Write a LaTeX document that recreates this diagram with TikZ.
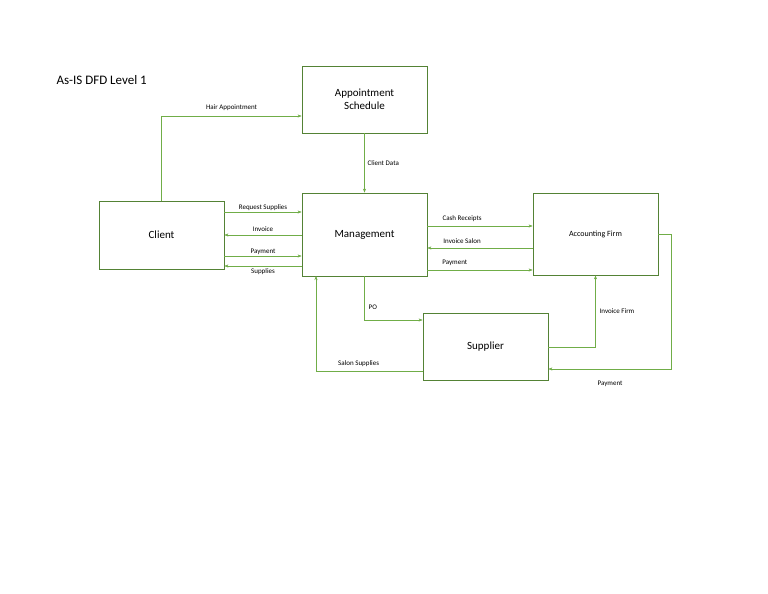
\documentclass[tikz,border=0pt]{standalone}
\usepackage{fontspec}
\setmainfont{Carlito}
\usetikzlibrary{arrows.meta}
\definecolor{boxgreen}{RGB}{84,130,53}
\definecolor{linegreen}{RGB}{112,173,71}
\tikzset{
  proc/.style={draw=boxgreen, thick, minimum width=125pt, align=center, font=\fontsize{11}{13}\selectfont},
  flow/.style={draw=linegreen, -{Stealth[length=4pt,width=3pt]}},
  lbl/.style={font=\fontsize{7}{8}\selectfont, inner sep=1pt}
}
\begin{document}
\begin{tikzpicture}[x=1pt, y=-1pt]
		\useasboundingbox (0,0) rectangle (768,594);
		
		% Title
		\node[anchor=west, font=\fontsize{13}{15}\selectfont] (title) at (53,80) {As-IS DFD Level 1};
		
		% Processes and entities
		\node[proc, minimum height=67pt] (sched) at (364.5,99.5) {Appointment\\Schedule};
		\node[proc, minimum height=68pt] (client) at (161.5,235) {Client};
		\node[proc, minimum height=83pt] (mgmt) at (364.5,234.5) {Management};
		\node[proc, minimum height=82pt, font=\fontsize{8}{10}\selectfont] (acct) at (595.5,234) {Accounting Firm};
		\node[proc, minimum height=67pt] (supp) at (485.5,346.5) {Supplier};
		
		% Client and schedule
		\draw[flow] (client.north) |- (sched.west |- 0,116) node[lbl, pos=0.75, above=4pt] {Hair Appointment};
		\draw[flow] (sched.south) -- (mgmt.north) node[lbl, midway, right=2pt] {Client Data};
		
		% Client and management
		\draw[flow] (client.east |- 0,212) -- (mgmt.west |- 0,212) node[lbl, midway, above] {Request Supplies};
		\draw[flow] (mgmt.west |- 0,235) -- (client.east |- 0,235) node[lbl, midway, above=2pt] {Invoice};
		\draw[flow] (client.east |- 0,256) -- (mgmt.west |- 0,256) node[lbl, midway, above] {Payment};
		\draw[flow] (mgmt.west |- 0,266) -- (client.east |- 0,266) node[lbl, midway, below=1pt] {Supplies};
		
		% Management and accounting
		\draw[flow] (mgmt.east |- 0,226) -- (acct.west |- 0,226) node[lbl, pos=0.33, above=3pt] {Cash Receipts};
		\draw[flow] (acct.west |- 0,248) -- (mgmt.east |- 0,248) node[lbl, pos=0.67, above=3pt] {Invoice Salon};
		\draw[flow] (mgmt.east |- 0,270) -- (acct.west |- 0,270) node[lbl, pos=0.26, above=3pt] {Payment};
		
		% Supplier
		\draw[flow] (mgmt.south) |- (supp.west |- 0,320) node[lbl, pos=0.35, right=3pt] {PO};
		\draw[flow] (supp.west |- 0,371) -| (316,276) node[lbl, pos=0.3, above=3pt] {Salon Supplies};
		\draw[flow] (supp.east |- 0,347) -| (acct.south) node[lbl, pos=0.75, right=3pt] {Invoice Firm};
		\draw[flow] (acct.east) -| (671,369) -- (supp.east |- 0,369);
		\node[lbl] (paylbl) at (610,384) {Payment};
		
	\end{tikzpicture}
\end{document}
